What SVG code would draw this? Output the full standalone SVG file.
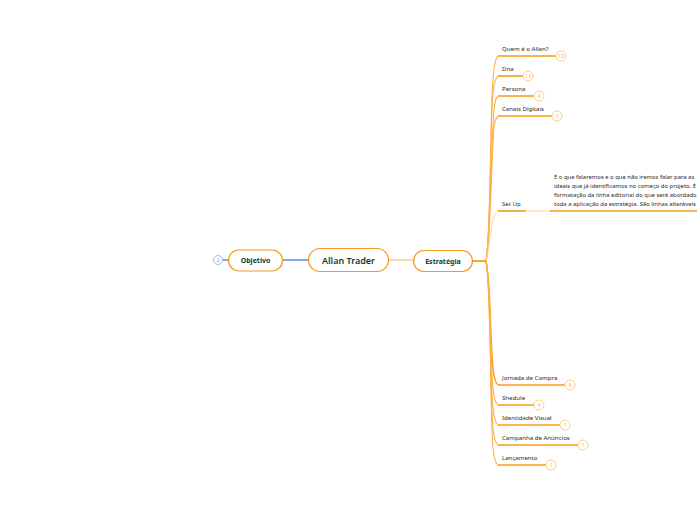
<svg xmlns="http://www.w3.org/2000/svg" width="697" height="520" viewBox="0 0 697 520">
<style>
text{font-family:"Noto Sans","Open Sans","DejaVu Sans",sans-serif;fill:#2a2a2a}
.l{font-size:6.1px}
.b{font-size:5.9px}
.n{font-size:7px;font-weight:700;fill:#0f3d33;text-anchor:middle}
.box{fill:#fff;stroke:#f7941d;stroke-width:1.2}
.c{fill:#fff;stroke:#ffcd85;stroke-width:1}
.ct{font-size:5.5px;fill:#f9b765;text-anchor:middle}
.o{fill:none;stroke:#fb9a14;stroke-width:1.6}
.s{fill:none;stroke:#ffcf8f;stroke-width:1}
.m{fill:none;stroke:#fdb04a;stroke-width:1.1}
</style>
<g id="connectors">
<path d="M389 260H413" fill="none" stroke="#ffc67a" stroke-width="1.3"/>
<path d="M283 260H308" fill="none" stroke="#5b8cf0" stroke-width="1.5"/>
<path d="M223 260H228" fill="none" stroke="#5b8cf0" stroke-width="1.5"/>
<path d="M472 261H486" fill="none" stroke="#fb9a14" stroke-width="1.8"/>
<path class="m" d="M486 261C491 235 490 110 493 80C494 66 495 58 498 56"/>
<path class="m" d="M486 261C491 235 490 120 493 92C494 84 495 78 498 76"/>
<path class="m" d="M486 261C491 235 491 140 494 110C494.500 104 496 98 498 96"/>
<path class="m" d="M486 261C491 235 491 160 494 128C494.500 122 496 118 498 116"/>
<path class="s" d="M486 261C490 250 490 215 498 211"/>
<path class="m" d="M486 261C491 285 490 340 493 368C494 378 495 383 498 385" style="stroke:#fb9a14;stroke-width:1.400"/>
<path class="m" d="M486 261C491 285 490 360 493 388C494 398 495 403 498 405"/>
<path class="m" d="M486 261C491 285 490 380 493 408C494 418 495 423 498 425"/>
<path class="m" d="M486 261C491 285 490 400 493 428C494 438 495 443 498 445"/>
<path class="m" d="M486 261C491 285 490 420 493 448C494 458 495 463 498 465"/>
<path class="o" d="M498 56H556"/>
<path class="o" d="M498 76H523"/>
<path class="o" d="M498 96H534"/>
<path class="o" d="M498 116H552"/>
<path class="o" d="M498 211H526"/>
<path class="s" d="M526 211H550"/>
<path class="o" d="M550 211H697"/>
<path class="o" d="M498 385H565"/>
<path class="o" d="M498 405H534"/>
<path class="o" d="M498 425H560"/>
<path class="o" d="M498 445H578"/>
<path class="o" d="M498 465H546"/>
</g>
<g id="root"><rect class="box" x="308.500" y="248.500" width="80" height="23" rx="11.500"/><text class="n" x="348.500" y="264" style="font-size:9px;font-weight:600">Allan Trader</text></g>
<g id="objetivo"><rect class="box" x="228.500" y="250" width="54" height="21" rx="10.500"/><text class="n" x="255.500" y="263">Objetivo</text><circle cx="218" cy="260" r="4.500" fill="#fff" stroke="#9db8f5"/><text class="ct" x="218" y="262" style="fill:#7f9fe8">2</text></g>
<g id="estrategia"><rect class="box" x="413.500" y="250.500" width="59" height="21" rx="10.500"/><text class="n" x="443" y="264">Estratégia</text></g>
<g id="n1"><text class="l" x="502" y="51">Quem é o Allan?</text><circle class="c" cx="561" cy="56" r="5"/><text class="ct" x="561" y="58">10</text></g>
<g id="n2"><text class="l" x="502" y="71">Dna</text><circle class="c" cx="528" cy="76" r="5"/><text class="ct" x="528" y="78">13</text></g>
<g id="n3"><text class="l" x="502" y="91">Persona</text><circle class="c" cx="539" cy="96" r="5"/><text class="ct" x="539" y="98">4</text></g>
<g id="n4"><text class="l" x="502" y="111">Canais Digitais</text><circle class="c" cx="557" cy="116" r="5"/><text class="ct" x="557" y="118">7</text></g>
<g id="n5"><text class="l" x="502" y="206">Set Up</text>
<text class="b" x="554" y="179">É o que falaremos e o que não iremos falar para as</text>
<text class="b" x="554" y="188">ideais que já identificamos no começo do projeto. É</text>
<text class="b" x="554" y="197">formatação da linha editorial do que será abordado</text>
<text class="b" x="554" y="206">toda a aplicação da estratégia. São linhas alteráveis</text></g>
<g id="n6"><text class="l" x="502" y="380">Jornada de Compra</text><circle class="c" cx="570" cy="385" r="5"/><text class="ct" x="570" y="387">9</text></g>
<g id="n7"><text class="l" x="502" y="400">Shedule</text><circle class="c" cx="539" cy="405" r="5"/><text class="ct" x="539" y="407">4</text></g>
<g id="n8"><text class="l" x="502" y="420">Identidade Visual</text><circle class="c" cx="565" cy="425" r="5"/><text class="ct" x="565" y="427">1</text></g>
<g id="n9"><text class="l" x="502" y="440">Campanha de Anúncios</text><circle class="c" cx="583" cy="445" r="5"/><text class="ct" x="583" y="447">1</text></g>
<g id="n10"><text class="l" x="502" y="460">Lançamento</text><circle class="c" cx="551" cy="465" r="5"/><text class="ct" x="551" y="467">1</text></g>
</svg>
